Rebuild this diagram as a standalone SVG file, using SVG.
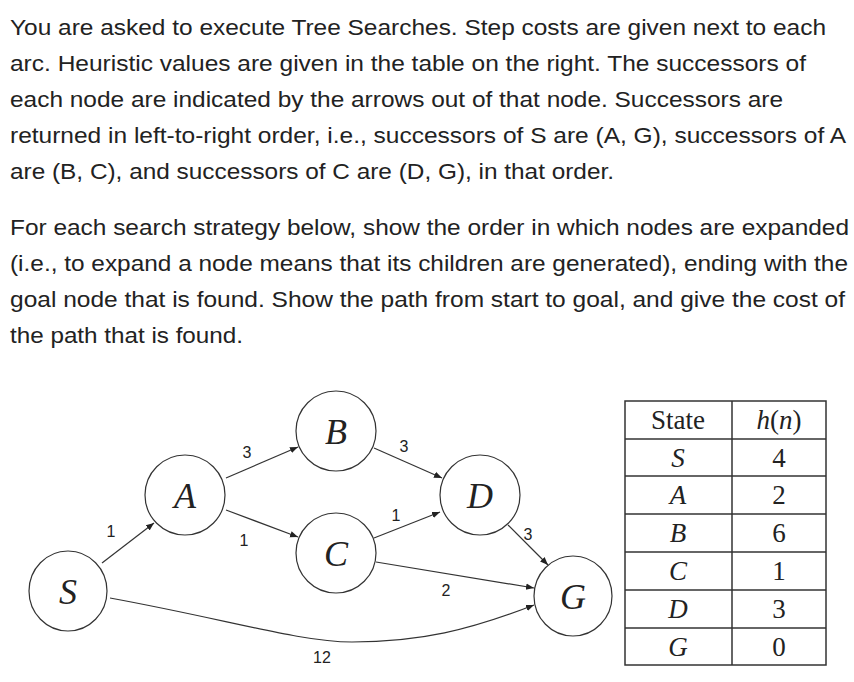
<svg xmlns="http://www.w3.org/2000/svg" width="854" height="682" viewBox="0 0 854 682">
<style>
.p{font-family:"Liberation Sans",Arial,sans-serif;font-size:22px;fill:#222}
.n ellipse{fill:#fff;stroke:#333;stroke-width:1.2}
.n text{font-family:"Liberation Serif","Times New Roman",serif;font-style:italic;font-size:36px;text-anchor:middle;fill:#222}
.e{stroke:#333;stroke-width:1.2;fill:none;marker-end:url(#ah)}
.l{font-family:"Liberation Sans",Arial,sans-serif;font-size:16px;fill:#222;text-anchor:middle}
.t{font-family:"Liberation Serif","Times New Roman",serif;font-size:27px;fill:#222;text-anchor:middle}
.ti{font-style:italic}
.g{stroke:#333;stroke-width:1.5;fill:none}
</style>
<defs><marker id="ah" viewBox="0 0 10 10" refX="10" refY="5" markerWidth="8" markerHeight="8" markerUnits="userSpaceOnUse" orient="auto"><path d="M0,1L10,5L0,9z" fill="#222"/></marker></defs>
<rect width="854" height="682" fill="#fff"/>
<g id="text">
<text class="p" x="10" y="35" textLength="816" lengthAdjust="spacingAndGlyphs">You are asked to execute Tree Searches. Step costs are given next to each</text>
<text class="p" x="10" y="71" textLength="796" lengthAdjust="spacingAndGlyphs">arc. Heuristic values are given in the table on the right. The successors of</text>
<text class="p" x="10" y="107" textLength="773" lengthAdjust="spacingAndGlyphs">each node are indicated by the arrows out of that node. Successors are</text>
<text class="p" x="10" y="143" textLength="836" lengthAdjust="spacingAndGlyphs">returned in left-to-right order, i.e., successors of S are (A, G), successors of A</text>
<text class="p" x="10" y="179" textLength="604" lengthAdjust="spacingAndGlyphs">are (B, C), and successors of C are (D, G), in that order.</text>
<text class="p" x="10" y="235" textLength="839" lengthAdjust="spacingAndGlyphs">For each search strategy below, show the order in which nodes are expanded</text>
<text class="p" x="10" y="271" textLength="838" lengthAdjust="spacingAndGlyphs">(i.e., to expand a node means that its children are generated), ending with the</text>
<text class="p" x="10" y="307" textLength="835" lengthAdjust="spacingAndGlyphs">goal node that is found. Show the path from start to goal, and give the cost of</text>
<text class="p" x="10" y="343" textLength="233" lengthAdjust="spacingAndGlyphs">the path that is found.</text>
</g>
<g id="connectors">
<line class="e" x1="102" y1="563" x2="154" y2="523"/>
<line class="e" x1="226" y1="478" x2="298" y2="447"/>
<line class="e" x1="226" y1="510" x2="298" y2="537"/>
<line class="e" x1="374" y1="448" x2="442" y2="478"/>
<line class="e" x1="374" y1="538" x2="440" y2="512"/>
<line class="e" x1="508" y1="525" x2="548" y2="565"/>
<line class="e" x1="376" y1="562" x2="534" y2="588"/>
<path class="e" d="M110,598 C230,620 300,642 352,642 C420,642 470,630 534,605"/>
<text class="l" x="111" y="537">1</text>
<text class="l" x="247" y="458">3</text>
<text class="l" x="244" y="546">1</text>
<text class="l" x="404" y="452">3</text>
<text class="l" x="396" y="521">1</text>
<text class="l" x="528" y="540">3</text>
<text class="l" x="446" y="596">2</text>
<text class="l" x="322" y="663">12</text>
</g>
<g id="S" class="n"><ellipse cx="68" cy="591" rx="39" ry="40"/><text x="68" y="604">S</text></g>
<g id="A" class="n"><ellipse cx="185" cy="495" rx="40" ry="40"/><text x="185" y="508">A</text></g>
<g id="B" class="n"><ellipse cx="336" cy="431" rx="40" ry="40"/><text x="336" y="444">B</text></g>
<g id="C" class="n"><ellipse cx="336" cy="553" rx="40" ry="40"/><text x="336" y="566">C</text></g>
<g id="D" class="n"><ellipse cx="480" cy="495" rx="40" ry="40"/><text x="480" y="508">D</text></g>
<g id="G" class="n"><ellipse cx="573" cy="596" rx="39" ry="40"/><text x="573" y="609">G</text></g>
<g id="table">
<rect class="g" x="625" y="401" width="201" height="264"/>
<line class="g" x1="732" y1="401" x2="732" y2="665"/>
<line class="g" x1="625" y1="439" x2="826" y2="439"/>
<line class="g" x1="625" y1="476" x2="826" y2="476"/>
<line class="g" x1="625" y1="514" x2="826" y2="514"/>
<line class="g" x1="625" y1="552" x2="826" y2="552"/>
<line class="g" x1="625" y1="590" x2="826" y2="590"/>
<line class="g" x1="625" y1="628" x2="826" y2="628"/>
<text class="t" x="678" y="429">State</text><text class="t" x="779" y="429"><tspan class="ti">h</tspan>(<tspan class="ti">n</tspan>)</text>
<text class="t ti" x="678" y="467">S</text><text class="t" x="779" y="467">4</text>
<text class="t ti" x="678" y="504">A</text><text class="t" x="779" y="504">2</text>
<text class="t ti" x="678" y="542">B</text><text class="t" x="779" y="542">6</text>
<text class="t ti" x="678" y="580">C</text><text class="t" x="779" y="580">1</text>
<text class="t ti" x="678" y="618">D</text><text class="t" x="779" y="618">3</text>
<text class="t ti" x="678" y="656">G</text><text class="t" x="779" y="656">0</text>
</g>
</svg>
